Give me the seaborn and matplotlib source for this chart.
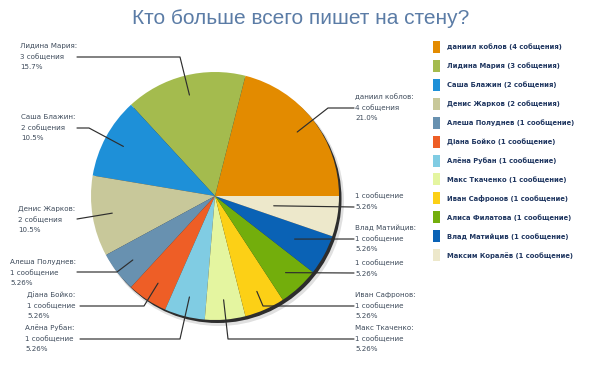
import matplotlib
matplotlib.use("Agg")
import matplotlib.pyplot as plt
import seaborn as sns
import numpy as np
from matplotlib.patches import Circle, Rectangle

# Data
names = ['даниил коблов', 'Лидина Мария', 'Саша Блажин', 'Денис Жарков',
         'Алеша Полуднев', 'Діана Бойко', 'Алёна Рубан', 'Макс Ткаченко',
         'Иван Сафронов', 'Алиса Филатова', 'Влад Матийцив', 'Максим Коралёв']
counts = [4, 3, 2, 2, 1, 1, 1, 1, 1, 1, 1, 1]
count_text = ['4 собщения', '3 собщения', '2 собщения', '2 собщения'] + ['1 сообщение'] * 8
pct_text = ['21.0%', '15.7%', '10.5%', '10.5%'] + ['5.26%'] * 8
colors = ['#E38B00', '#A4BB4E', '#1E90D8', '#C8C89A', '#6891B0', '#EE5E26',
          '#80CCE3', '#E4F5A0', '#FCD016', '#73AE0C', '#0A62B5', '#EDE8CB']
show_name = [True] * 9 + [False, True, False]

sns.set_theme(style="white")
plt.rcParams['font.family'] = ['DejaVu Sans']

fig = plt.figure(figsize=(6.04, 3.78), dpi=100)
ax = fig.add_axes([0, 0, 1, 1])

cx, cy, R = 215, 196, 124

# drop shadow
ax.add_patch(Circle((cx + 4, cy + 5), R + 1, color='black', alpha=0.12, lw=0, zorder=0))
ax.add_patch(Circle((cx + 2.5, cy + 3), R, color='black', alpha=0.8, lw=0, zorder=0))

wedges, _ = ax.pie(counts, colors=colors, startangle=0, counterclock=False,
                   center=(cx, cy), radius=R, wedgeprops=dict(linewidth=0))
for w in wedges:
    w.set_zorder(1)

# label layout: inner radius fraction, elbow points, text x, first line y
layout = [
    (0.84, [(328, 108), (354, 108)], 355, 97),
    (0.84, [(180, 57), (77, 57)], 20, 46),
    (0.84, [(89, 128), (77, 128)], 21, 117),
    (0.84, [(77, 219)], 18, 209),
    (0.84, [(117, 272), (77, 272)], 10, 262),
    (0.84, [(144, 306), (80, 306)], 27, 295),
    (0.84, [(180, 339), (80, 339)], 25, 328),
    (0.84, [(228, 339), (354, 339)], 355, 328),
    (0.84, [(263, 306), (354, 306)], 355, 295),
    (0.84, [(354, 273)], 355, 263),
    (0.73, [(354, 239)], 355, 228),
    (0.48, [(354, 207)], 355, 196),
]
step = 10.7
for i, w in enumerate(wedges):
    frac, pts, tx, ty = layout[i]
    mid = np.deg2rad((w.theta1 + w.theta2) / 2)
    x0 = cx + frac * R * np.cos(mid)
    y0 = cy + frac * R * np.sin(mid)
    xs = [x0] + [p[0] for p in pts]
    ys = [y0] + [p[1] for p in pts]
    ax.plot(xs, ys, color='#2E2E2E', lw=0.85, zorder=3)
    lines = ([names[i] + ':'] if show_name[i] else []) + [count_text[i], pct_text[i]]
    for k, s in enumerate(lines):
        ax.text(tx, ty + k * step, s, fontsize=5.1, color='#3E4B5B',
                ha='left', va='center', zorder=4)

# legend
for i, name in enumerate(names):
    ly = 46.7 + i * 18.97
    ax.add_patch(Rectangle((433, ly - 6), 7, 12, color=colors[i], lw=0))
    ax.text(447, ly, f'{name} ({count_text[i]})', fontsize=4.9, fontweight='bold',
            color='#1F3660', ha='left', va='center')

ax.text(301, 18, 'Кто больше всего пишет на стену?', fontsize=15,
        family=['Liberation Sans'], color='#5B7CA6', ha='center', va='center')

ax.set_xlim(0, 604)
ax.set_ylim(378, 0)
ax.set_aspect('auto')
ax.axis('off')

fig.savefig('out.png', dpi=100)
